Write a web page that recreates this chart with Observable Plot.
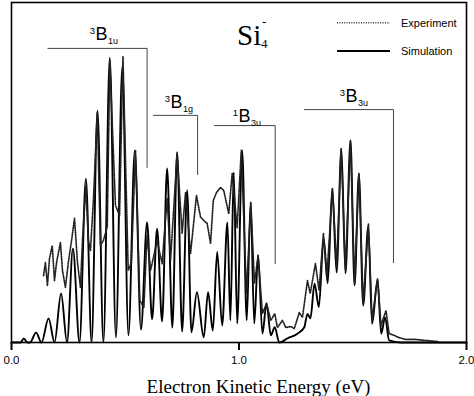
<!DOCTYPE html>
<html><head><meta charset="utf-8">
<script src="https://cdn.jsdelivr.net/npm/d3@7"></script>
<script src="https://cdn.jsdelivr.net/npm/@observablehq/plot@0.6"></script>
<style>body{margin:0;background:#fff}</style>
</head><body><div id="chart"></div>
<script>
// Simulation (solid) – peak and valley readings
const simEnergy = [0.000,0.040,0.054,0.070,0.081,0.108,0.132,0.163,0.189,0.218,0.244,0.270,0.299,0.327,0.352,0.378,0.404,0.432,0.459,0.487,0.514,0.542,0.569,0.596,0.618,0.640,0.662,0.684,0.707,0.728,0.750,0.772,0.791,0.815,0.845,0.864,0.885,0.904,0.926,0.949,0.962,0.977,0.992,1.014,1.034,1.051,1.067,1.084,1.103,1.121,1.140,1.157,1.177,1.213,1.257,1.287,1.301,1.314,1.332,1.351,1.372,1.390,1.410,1.429,1.450,1.468,1.490,1.508,1.527,1.546,1.568,1.585,1.609,1.625,1.642,1.660,1.710,2.000];
const simIntensity = [0,0,1.2,0,0,2.9,0,7.1,0,14.4,0,27.6,0,48.2,0,68.2,0,83.8,1.5,81.2,2.1,56.5,3.8,35.3,6.8,33.5,6.2,51.2,4.4,56.0,3.2,44.7,3.0,14.8,1.5,14.8,3.5,26.6,5.0,35.3,6.5,50.0,5.6,56.5,6.5,41.3,5.6,25.6,2.6,11.5,2.1,4.5,0,1.2,2.6,4.5,8.4,7.1,17.3,10.4,30.6,17.4,45.2,20.6,57.0,20.3,59.4,16.8,49.6,10.9,34.1,5.5,18.5,2.6,7.4,0.6,0,0];
// Experiment (dotted)
const expEnergy = [0.141,0.149,0.158,0.167,0.179,0.189,0.198,0.215,0.224,0.237,0.251,0.264,0.277,0.290,0.303,0.312,0.327,0.338,0.347,0.360,0.377,0.391,0.404,0.421,0.432,0.457,0.475,0.490,0.513,0.527,0.545,0.564,0.582,0.596,0.611,0.618,0.640,0.662,0.684,0.699,0.728,0.750,0.765,0.787,0.813,0.831,0.845,0.860,0.875,0.887,0.901,0.919,0.933,0.955,0.970,0.992,1.010,1.033,1.052,1.068,1.084,1.103,1.121,1.140,1.157,1.169,1.191,1.206,1.228,1.243,1.265,1.279,1.301,1.313,1.336,1.352,1.371,1.386,1.411,1.429,1.449,1.468,1.490,1.508,1.527,1.546,1.569,1.585,1.609,1.624,1.646,1.660,1.682,1.701,1.732,1.776,1.820,1.873];
const expIntensity = [19.7,23.5,16.8,24.7,28.5,18.2,23.5,29.4,21.2,16.2,24.1,30.0,36.5,23.5,16.2,30.0,45.9,30.0,27.1,41.8,67.6,28.5,30.0,34.1,82.9,40.3,37.4,84.1,21.2,23.5,56.5,12.4,10.3,31.5,21.2,23.2,30.0,23.2,42.4,24.1,55.6,32.1,44.1,26.2,43.2,36.9,35.9,35.0,29.1,41.8,44.1,45.6,44.7,37.9,49.7,33.8,56.5,14.4,41.2,17.4,25.6,8.5,11.5,6.5,8.5,4.4,6.5,4.4,4.7,4.1,8.8,7.4,18.2,14.4,23.2,15.3,32.1,19.1,45.3,22.1,57.1,21.2,59.4,17.4,49.7,11.5,35.0,6.5,18.8,5.0,9.4,2.6,2.1,1.5,0.9,0.9,0.6,0.3];

const xTicks = [0, 1, 2];
const xTickLabels = ["0.0", "1.0", "2.0"];
const xLabel = "Electron Kinetic Energy (eV)";
const seriesNames = ["Experiment", "Simulation"];

// Electronic-state brackets
const bandSup = ["3", "3", "1", "3"];
const bandMain = ["B", "B", "B", "B"];
const bandSub = ["1u", "1g", "3u", "3u"];
const bandStart = [0.16, 0.624, 0.892, 1.287];
const bandEnd = [0.596, 0.818, 1.159, 1.679];
const bandLevel = [86.5, 66.8, 63.8, 68.5];
const bandDrop = [51.5, 49.4, 23.2, 23.5];
const bandLabelEnergy = [0.369, 0.699, 0.998, 1.468];
const bandLabelLevel = [89.1, 69.1, 65.0, 70.6];

const sim = simEnergy.map((e, i) => ({e, v: simIntensity[i]}));
const exp = expEnergy.map((e, i) => ({e, v: expIntensity[i]}));
const brackets = bandStart.flatMap((s, i) => [
  {i, e: s, v: bandLevel[i]},
  {i, e: bandEnd[i], v: bandLevel[i]},
  {i, e: bandEnd[i], v: bandDrop[i]}
]);
const labels = bandMain.map((m, i) => ({m, sup: bandSup[i], sub: bandSub[i], e: bandLabelEnergy[i], v: bandLabelLevel[i]}));

const chart = Plot.plot({
  width: 474,
  height: 396,
  marginLeft: 11,
  marginRight: 8,
  marginTop: 2,
  marginBottom: 54,
  style: {fontFamily: "Liberation Sans, Arial, sans-serif", background: "#fff"},
  x: {domain: [0, 2]},
  y: {domain: [0, 100], axis: null},
  marks: [
    Plot.line(sim, {x: "e", y: "v", stroke: "#000", strokeWidth: 1.9, curve: "monotone-x"}),
    Plot.line(exp, {x: "e", y: "v", stroke: "#222", strokeWidth: 1.7, strokeDasharray: "1,1.4"}),
    Plot.line(brackets, {x: "e", y: "v", z: "i", stroke: "#444", strokeWidth: 1}),
    Plot.text(labels, {x: "e", y: "v", text: "m", textAnchor: "start", lineAnchor: "bottom", fontSize: 18, fill: "#000"}),
    Plot.text(labels, {x: "e", y: "v", text: "sup", textAnchor: "end", lineAnchor: "bottom", fontSize: 9.5, dx: -0.5, dy: -6, fill: "#000"}),
    Plot.text(labels, {x: "e", y: "v", text: "sub", textAnchor: "start", lineAnchor: "bottom", fontSize: 9, dx: 12.5, dy: 4, fill: "#000"}),
    Plot.frame({stroke: "#000", strokeWidth: 1.6}),
    Plot.axisX({ticks: xTicks, tickFormat: d => xTickLabels[xTicks.indexOf(d)], tickSize: 8, tickPadding: 5, fontSize: 11.5, strokeWidth: 2, label: null})
  ]
});

const svg = d3.select(chart);
// Title Si4-
const serif = "Liberation Serif, Times New Roman, serif";
svg.append("text").attr("x", 237).attr("y", 45).attr("text-anchor", "start")
  .attr("font-family", serif).attr("font-size", 29).attr("fill", "#000").text("Si");
svg.append("text").attr("x", 261).attr("y", 48).attr("text-anchor", "start")
  .attr("font-family", serif).attr("font-size", 13).text("4");
svg.append("text").attr("x", 262).attr("y", 26).attr("text-anchor", "start")
  .attr("font-family", serif).attr("font-size", 13).text("-");

// Legend
const leg = svg.append("g").attr("font-family", "Liberation Sans, Arial, sans-serif").attr("font-size", 11).attr("text-anchor", "start");
[[22.7, "1,1.4"], [51, null]].forEach(([y, dash], i) => {
  const l = leg.append("line").attr("x1", 337).attr("x2", 390).attr("y1", y).attr("y2", y)
    .attr("stroke", i ? "#000" : "#333").attr("stroke-width", i ? 2 : 1.4);
  if (dash) l.attr("stroke-dasharray", dash);
  leg.append("text").attr("x", 401).attr("y", y).attr("dy", "0.35em").text(seriesNames[i]);
});

// X axis title
svg.append("text").attr("x", 258.5).attr("y", 393).attr("text-anchor", "middle")
  .attr("font-family", serif).attr("font-size", 19).attr("fill", "#000").text(xLabel);

document.getElementById("chart").appendChild(chart);
</script>
</body></html>
